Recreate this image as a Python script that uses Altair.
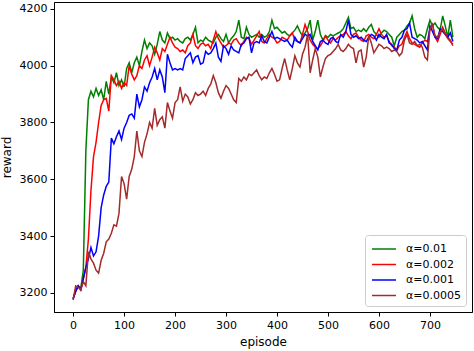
import altair as alt
import pandas as pd

episodes = list(range(0, 750, 5))

labels = ["α=0.01", "α=0.002", "α=0.001", "α=0.0005"]
colors = ["#008000", "#ff0000", "#0000ff", "#a52a2a"]

green = [
    3180, 3210, 3225, 3215, 3280, 3700, 3880, 3910, 3890, 3920,
    3895, 3915, 3880, 3945, 3900, 3960, 3940, 3975, 3930, 3950,
    3925, 3990, 4010, 3975, 4010, 4030, 4000, 4050, 4090, 4060,
    4080, 4070, 4040, 4075, 4120, 4090, 4080, 4115, 4095, 4100,
    4090, 4095, 4085, 4080, 4095, 4100, 4090, 4110, 4135, 4080,
    4090, 4085, 4100, 4090, 4085, 4080, 4100, 4110, 4095, 4085,
    4110, 4080, 4095, 4105, 4120, 4160, 4100, 4095, 4135, 4110,
    4100, 4105, 4110, 4100, 4110, 4100, 4105, 4120, 4160, 4130,
    4135, 4125, 4115, 4120, 4110, 4105, 4115, 4125, 4140, 4120,
    4105, 4115, 4130, 4160, 4090, 4120, 4160, 4110, 4090, 4105,
    4100, 4110, 4105, 4110, 4115, 4120, 4130, 4150, 4170, 4130,
    4135, 4120, 4125, 4120, 4130, 4120, 4135, 4145, 4120, 4110,
    4100, 4115, 4125, 4120, 4110, 4100, 4070, 4100, 4110, 4120,
    4125, 4140, 4150, 4175, 4130, 4100, 4110, 4105, 4095, 4130,
    4160, 4140, 4150, 4135, 4125, 4175, 4140, 4100, 4160, 4100,
]

red = [
    3180, 3205, 3225, 3215, 3250, 3290, 3390, 3560, 3680, 3730,
    3800, 3860, 3880, 3885, 3840, 3965, 3950, 3930, 3945, 3920,
    3940, 3930, 4000, 3970, 3950, 3965, 4000, 3990, 4020, 4035,
    4000, 4030, 4065, 4045, 4020, 4060, 4050, 4075, 4100, 4080,
    4065, 4060, 4050, 4055, 4045, 4070, 4080, 4110, 4070, 4060,
    4075, 4080, 4070, 4075, 4060, 4090, 4120, 4095, 4080, 4065,
    4070, 4080, 4075, 4090, 4095, 4080, 4070, 4085, 4100, 4095,
    4075, 4090, 4105, 4120, 4085, 4080, 4095, 4110, 4100, 4095,
    4080, 4085, 4100, 4095, 4090, 4105, 4115, 4090, 4085, 4080,
    4110, 4145, 4120, 4090, 4075, 4065, 4060, 4070, 4085, 4105,
    4090, 4080, 4095, 4090, 4100, 4105, 4110, 4120, 4105, 4095,
    4110, 4115, 4100, 4090, 4085, 4105, 4110, 4100, 4095, 4110,
    4130, 4110, 4100, 4105, 4085, 4070, 4065, 4055, 4070, 4075,
    4100, 4120, 4095, 4080, 4075, 4070, 4065, 4080, 4090, 4085,
    4130, 4145, 4100, 4085, 4110, 4135, 4115, 4100, 4090, 4070,
]

blue = [
    3180, 3205, 3225, 3210, 3250, 3290, 3320, 3360, 3330, 3345,
    3400, 3500, 3545, 3575, 3590, 3745, 3725, 3750, 3770, 3740,
    3780, 3800, 3825, 3830, 3815, 3900, 3855, 3880, 3925, 3910,
    3940, 3960, 3990, 3950, 3985, 3960, 3905, 4040, 4010, 3985,
    3990, 3985, 3990, 3985, 4025, 4035, 4045, 4010, 4030, 4035,
    4005, 4010, 4050, 4040, 4045, 4060, 4080, 4030, 4015, 4070,
    4060, 4040, 4070, 4055, 4050, 4045, 4075, 4080, 4095, 4100,
    4045, 4080, 4085, 4080, 4105, 4085, 4080, 4100, 4120, 4095,
    4100, 4095, 4090, 4085, 4090, 4075, 4065, 4100, 4085, 4080,
    4095, 4110, 4105, 4110, 4085, 4070, 4055, 4085, 4090, 4080,
    4075, 4095, 4100, 4085, 4080, 4110, 4100, 4120, 4160, 4110,
    4100, 4105, 4095, 4100, 4090, 4085, 4100, 4110, 4105, 4090,
    4110, 4100, 4095, 4110, 4080, 4075, 4060, 4055, 4090, 4100,
    4125, 4130, 4150, 4100, 4095, 4090, 4080, 4085, 4070, 4055,
    4140, 4120, 4100, 4095, 4130, 4120, 4110, 4100, 4115, 4085,
]

brown = [
    3175, 3225, 3220, 3210, 3240, 3225, 3345, 3320, 3305, 3280,
    3270, 3315, 3340, 3380, 3390, 3410, 3440, 3435, 3480, 3610,
    3585, 3530, 3610, 3635, 3680, 3770, 3700, 3680, 3730, 3760,
    3800, 3780, 3850, 3790, 3810, 3820, 3780, 3870, 3840, 3815,
    3870, 3880, 3925, 3875, 3900, 3890, 3865, 3880, 3905, 3895,
    3900, 3910, 3895, 3920, 3935, 3965, 3940, 3905, 3885, 3910,
    3930, 3920, 3900, 3880, 3870, 3955, 3945, 3960, 3950, 3970,
    3965, 3975, 3985, 3965, 3950, 3960, 3955, 3975, 3990, 3970,
    3945, 3950, 3990, 4025, 3985, 3950, 3990, 4035, 4010, 3995,
    4040, 4065, 4110, 3975, 4020, 4060, 4030, 3960, 3995, 4025,
    4035, 4040, 4050, 4060, 4075, 4055, 4050, 4060, 4075, 4065,
    4060, 4010, 4050, 4055, 3995, 4030, 4105, 4080, 4045, 4060,
    4075, 4070, 4060, 4065, 4060, 4050, 4055, 4050, 4035, 4045,
    4090, 4110, 4080, 4075, 4085, 4070, 4075, 4065, 4030, 4020,
    4130, 4145, 4105, 4100, 4120, 4130, 4110, 4095, 4085, 4075,
]

x_ticks = [0, 100, 200, 300, 400, 500, 600, 700]
y_ticks = [3200, 3400, 3600, 3800, 4000, 4200]

series = [green, red, blue, brown]

color_scale = alt.Scale(domain=labels, range=colors)
x_enc = alt.X("episode:Q", scale=alt.Scale(domain=[-37.5, 782.5], nice=False, zero=False),
              axis=alt.Axis(values=x_ticks, title="episode", grid=False, format="d"))
y_enc = alt.Y("reward:Q", scale=alt.Scale(domain=[3133, 4224], nice=False, zero=False),
              axis=alt.Axis(values=y_ticks, title="reward", grid=False, format="d"))

layers = []
for lab, vals in zip(labels, series):
    df = pd.DataFrame({"episode": episodes, "reward": vals, "series": lab})
    layers.append(
        alt.Chart(df).mark_line(strokeWidth=1.5).encode(
            x=x_enc,
            y=y_enc,
            color=alt.Color("series:N", scale=color_scale, sort=labels,
                            legend=alt.Legend(title=None, orient="none", legendX=311, legendY=233)),
        )
    )

chart = alt.layer(*layers).properties(
    width=418, height=310,
    autosize=alt.AutoSizeParams(type="none"),
    padding={"left": 54, "top": 2, "right": 2, "bottom": 39},
).configure_view(
    stroke="#000000", strokeWidth=1
).configure_axis(
    labelFont="DejaVu Sans", titleFont="DejaVu Sans",
    labelFontSize=11, titleFontSize=12, titleFontWeight="normal",
    labelColor="#000000", titleColor="#000000",
    domainColor="#000000", tickColor="#000000",
    tickSize=4, labelPadding=3, domainWidth=1,
).configure_axisY(
    titlePadding=6
).configure_axisX(
    titlePadding=6
).configure_legend(
    labelFont="DejaVu Sans", labelFontSize=11, labelColor="#000000",
    symbolType="M-1.5,0L1.5,0", symbolSize=256, symbolStrokeWidth=1.5,
    fillColor="#ffffff", strokeColor="#cccccc", cornerRadius=3, padding=5,
    rowPadding=1.5, labelOffset=13, symbolOffset=5,
)

chart.save("out.html", embed_options={"renderer": "svg", "actions": False})
